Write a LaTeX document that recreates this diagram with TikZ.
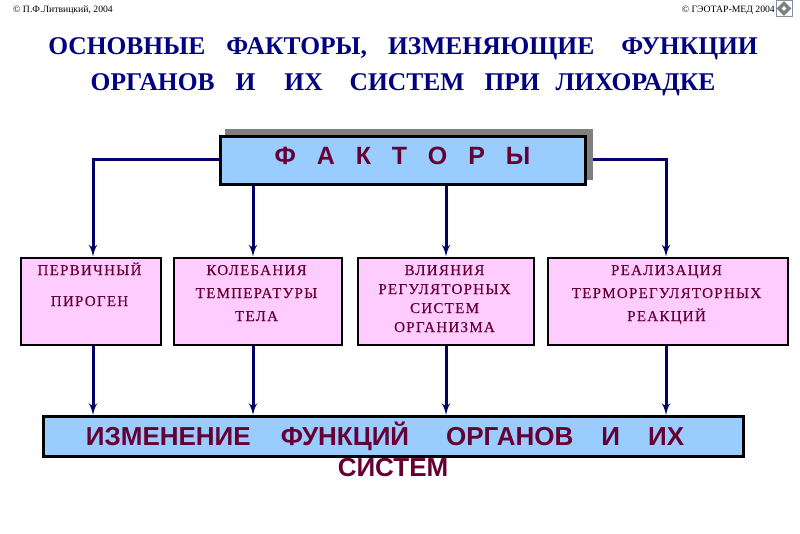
\documentclass[tikz,border=0pt]{standalone}
\usepackage{fontspec}
\setmainfont{Liberation Serif}
\newfontfamily\boxsans{Liberation Sans}
\usepackage{tikz}
\usetikzlibrary{arrows,shapes.geometric}
\definecolor{titleblue}{HTML}{000080}
\definecolor{linenavy}{HTML}{000066}
\definecolor{boxblue}{HTML}{99CCFF}
\definecolor{boxpink}{HTML}{FFCCFF}
\definecolor{wine}{HTML}{660033}
\definecolor{logoframe}{HTML}{7F8FA6}
\newcommand{\toplines}[2]{\parbox[c][84pt][t]{#1}{\centering\vspace*{2.7pt}\strut #2}\kern3pt}
\begin{document}
\begin{tikzpicture}[x=1pt,y=-1pt]
\tikzset{bigbox/.style = {shape=rectangle,draw=black,line width=3pt,fill=boxblue,inner sep=0pt}}
\tikzset{smallbox/.style = {shape=rectangle,draw=black,line width=2pt,fill=boxpink,inner sep=0pt,minimum height=87pt,text=wine,font=\fontsize{15}{19}\selectfont\addfontfeature{LetterSpace=8.5,FakeBold=0.3}}}
\tikzset{bigtext/.style = {text=wine,align=center,font=\fontsize{26}{31}\boxsans\bfseries}}
\tikzset{edge/.style = {->,> = latex',line width=3pt,draw=linenavy}}
\tikzset{copyr/.style = {inner sep=0pt,font=\fontsize{9.7}{11}\selectfont}}
\useasboundingbox (0,0) rectangle (800,533);
% columns of the arrows
\coordinate (c1) at (93,300);
\coordinate (c2) at (253,300);
\coordinate (c3) at (446,300);
\coordinate (c4) at (666,300);
% header
\node[copyr,anchor=west] (author) at (13,10) {© П.Ф.Литвицкий, 2004};
\node[copyr,anchor=east] (publisher) at (775,10) {© ГЭОТАР-МЕД 2004};
\node[shape=rectangle,draw=logoframe,fill=white,minimum size=16pt,inner sep=0pt] (logo) at (784,8.5) {};
\node[shape=diamond,fill=gray,inner sep=0pt,minimum size=15pt] (logomark) at (logo) {};
\node[shape=diamond,fill=white,inner sep=0pt,minimum size=5pt] (logodot) at (logo) {};
% title
\node[text=titleblue,align=center,inner sep=0pt,font=\fontsize{25.5}{36}\bfseries] (title) at (403,67)
  {ОСНОВНЫЕ\hspace{21pt}ФАКТОРЫ,\hspace{21pt}ИЗМЕНЯЮЩИЕ\hspace{27pt}ФУНКЦИИ\\ОРГАНОВ\hspace{21pt}И\hspace{29pt}ИХ\hspace{27pt}СИСТЕМ\hspace{20pt}ПРИ\hspace{16pt}ЛИХОРАДКЕ};
% boxes
\node[shape=rectangle,fill=gray,minimum width=368pt,minimum height=51pt,inner sep=0pt] (shadow) at (409,154.5) {};
\node[bigbox,minimum width=365pt,minimum height=48pt] (fact) at (403,160.5) {};
\node[bigtext,font=\fontsize{25}{31}\boxsans\bfseries] (facttext) at (402.5,156) {Ф\ \ \ А\ \ \ К\ \ \ Т\ \ \ О\ \ \ Р\ \ \ Ы};
\node[smallbox,minimum width=140pt] (prim) at (91,301) {\toplines{130pt}{ПЕРВИЧНЫЙ\\[12pt]ПИРОГЕН}};
\node[smallbox,minimum width=168pt] (temp) at (258,301) {\toplines{160pt}{КОЛЕБАНИЯ\\[4pt]ТЕМПЕРАТУРЫ\\[4pt]ТЕЛА}};
\node[smallbox,minimum width=176pt] (regs) at (446,301) {\toplines{170pt}{ВЛИЯНИЯ\\РЕГУЛЯТОРНЫХ\\СИСТЕМ\\ОРГАНИЗМА}};
\node[smallbox,minimum width=240pt] (real) at (668,301) {\toplines{230pt}{РЕАЛИЗАЦИЯ\\[4pt]ТЕРМОРЕГУЛЯТОРНЫХ\\[4pt]РЕАКЦИЙ}};
\node[bigbox,minimum width=700pt,minimum height=40pt] (chg) at (393.5,436.5) {};
\node[bigtext] (chgtext) at (393,449.5) {ИЗМЕНЕНИЕ\hspace{30pt}ФУНКЦИЙ\hspace{37pt}ОРГАНОВ\hspace{28pt}И\hspace{28pt}ИХ\hspace*{16pt}\\СИСТЕМ};
%edges
\draw[edge] (fact.west |- 0,159) -| (prim.north -| c1);
\draw[edge] (fact.south -| c2) -- (temp.north -| c2);
\draw[edge] (fact.south -| c3) -- (regs.north -| c3);
\draw[edge] (shadow.east |- 0,159) -| (real.north -| c4);
\draw[edge] (prim.south -| c1) -- (chg.north -| c1);
\draw[edge] (temp.south -| c2) -- (chg.north -| c2);
\draw[edge] (regs.south -| c3) -- (chg.north -| c3);
\draw[edge] (real.south -| c4) -- (chg.north -| c4);
\end{tikzpicture}
\end{document}
